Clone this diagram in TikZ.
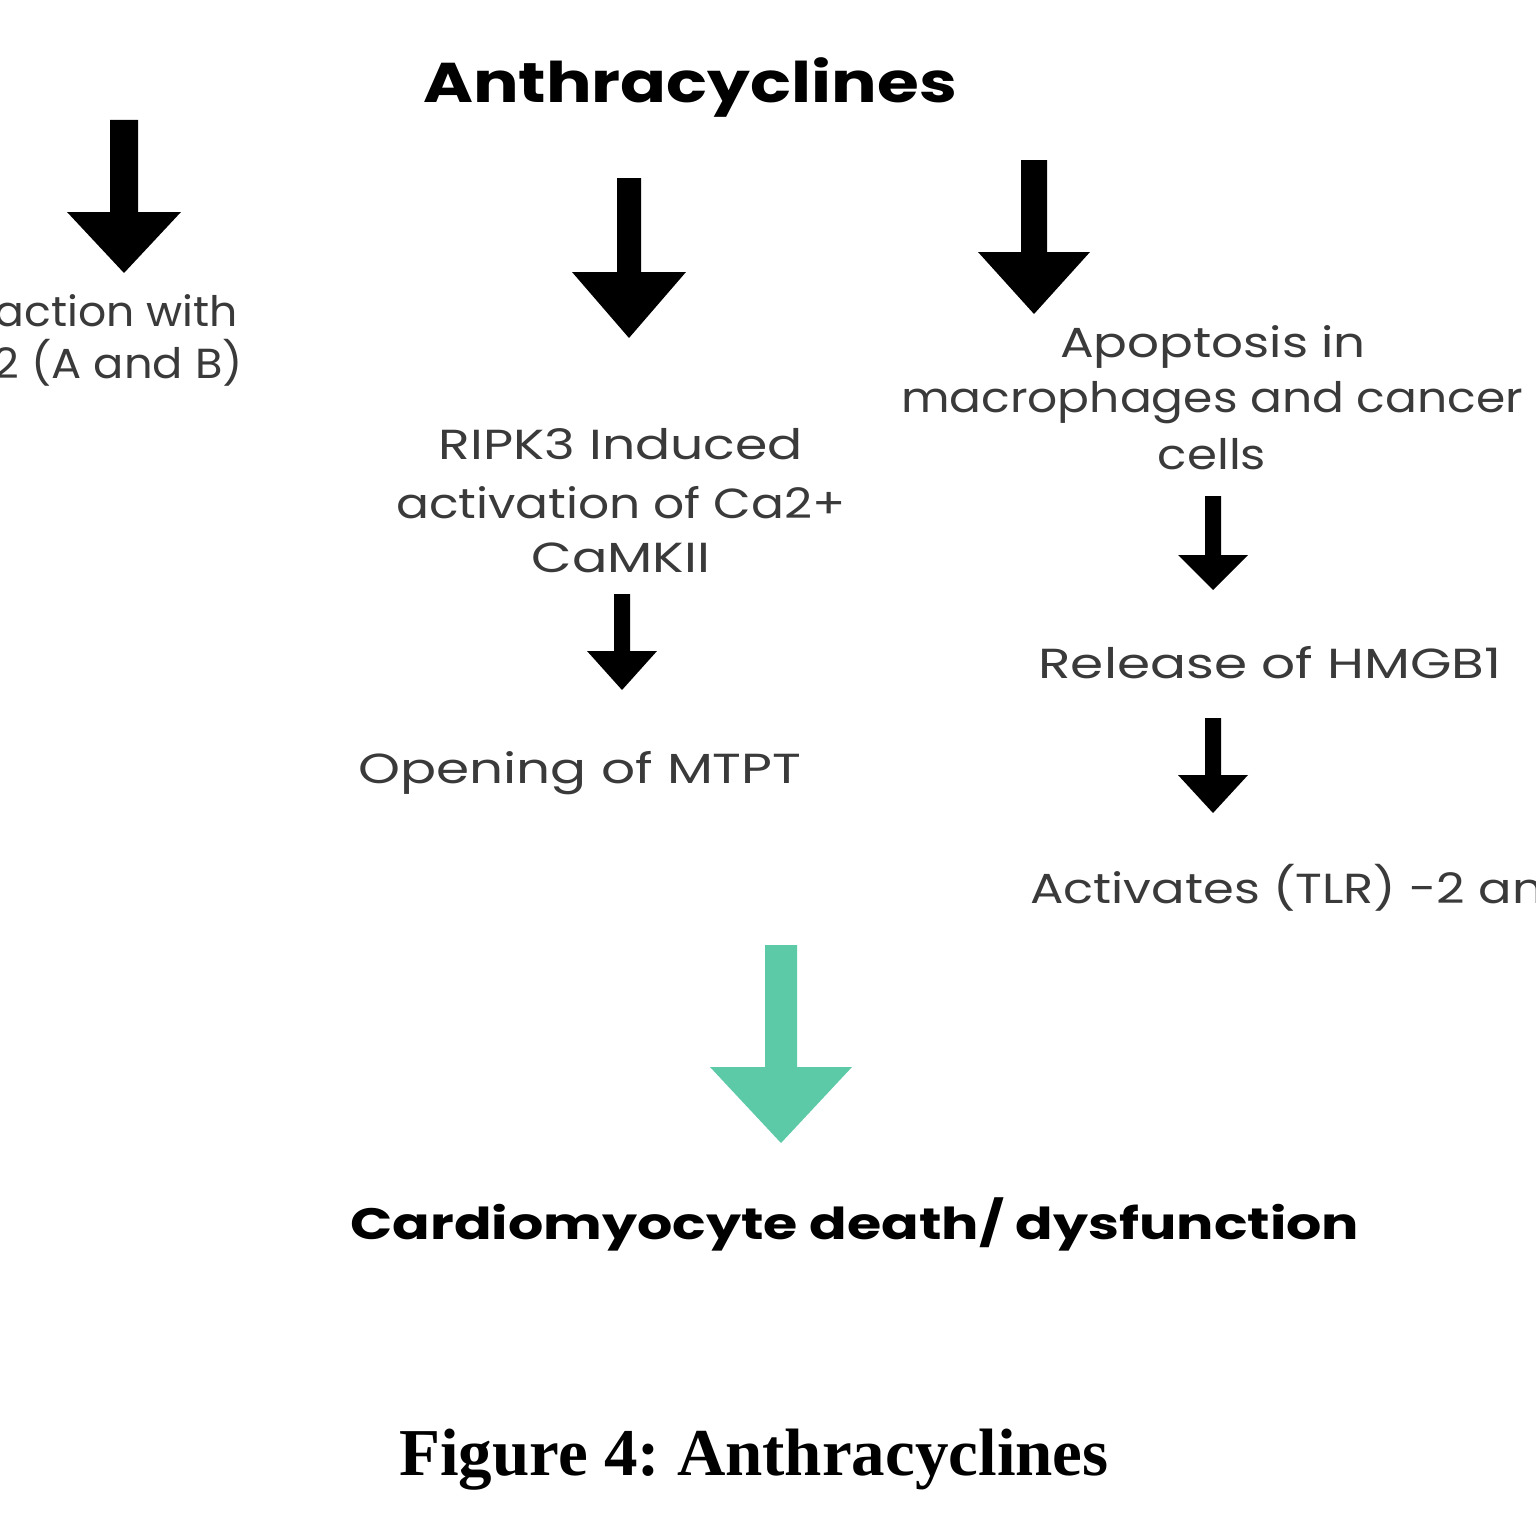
\documentclass[tikz,border=0pt]{standalone}
\usepackage{fontspec}
\setmainfont{Poppins}
\newfontfamily\capfont{Liberation Serif}
\definecolor{txtgray}{HTML}{3A3A3A}
\definecolor{teal}{HTML}{5CC9A7}
\tikzset{
  lbl/.style={anchor=base, inner sep=0pt, text=txtgray, font=\fontsize{42}{50}\selectfont\addfontfeatures{FakeStretch=#1}},
  lbl/.default=1.2,
  lblbold/.style={anchor=base, inner sep=0pt, text=black, font=\fontsize{44}{52}\selectfont\bfseries\addfontfeatures{FakeStretch=#1}},
  lblbold/.default=1.25,
  blockarrow/.style={fill=black, draw=none},
}
% #2 x, #3 top, #4 half shaft, #5 head base, #6 half head, #7 tip
\newcommand{\barrow}[7][blockarrow]{%
  \fill[#1] (#2-#4,#3) -- (#2+#4,#3) -- (#2+#4,#5) -- (#2+#6,#5) -- (#2,#7) -- (#2-#6,#5) -- (#2-#4,#5) -- cycle;}
\begin{document}
\begin{tikzpicture}[x=1pt,y=-1pt]
\useasboundingbox (0,0) rectangle (1536,1536);
\clip (0,0) rectangle (1536,1536);
\fill[white] (0,0) rectangle (1536,1536);
% title
\node[anchor=base, inner sep=0pt, text=black, font=\fontsize{56}{60}\selectfont\bfseries\addfontfeatures{FakeStretch=1.21}] (title) at (690,103) {Anthracyclines};
% black arrows
\barrow{124}{120}{14}{212}{57}{273}
\barrow{629}{178}{12}{272}{57}{338}
\barrow{1034}{160}{13}{252}{56}{314}
\barrow{622}{594}{8}{651}{35}{690}
\barrow{1213}{496}{8}{555}{35}{590}
\barrow{1213}{718}{8}{775}{35}{813}
% teal arrow
\barrow[fill=teal]{781}{945}{16}{1067}{71}{1143}
% left column (cut off at the left edge)
\node[lbl=1.05, anchor=base east] (l1) at (238,326) {action with};
\node[lbl=1.065, anchor=base east] (l2) at (243,378) {2 (A and B)};
% middle column
\node[lbl=1.24] (m1) at (621,459) {RIPK3 Induced};
\node[lbl=1.16] (m2) at (621,518) {activation of Ca2+};
\node[lbl=1.25] (m3) at (621,572) {CaMKII};
\node[lbl=1.27] (m4) at (580,783) {Opening of MTPT};
% right column
\node[lbl=1.19] (r1) at (1213,357) {Apoptosis in};
\node[lbl=1.123] (r2) at (1212,412) {macrophages and cancer};
\node[lbl=1.15] (r3) at (1212,469) {cells};
\node[lbl=1.27] (r4) at (1270,678) {Release of HMGB1};
\node[lbl=1.18, anchor=base west] (r5) at (1030,903) {Activates (TLR) -2 an};
% result
\node[lblbold=1.26] (res) at (855,1239) {Cardiomyocyte death/ dysfunction};
% caption
\node[anchor=base, inner sep=0pt, font=\capfont\bfseries\fontsize{67}{75}\selectfont\frenchspacing] (cap) at (754,1475) {Figure 4: Anthracyclines};
\end{tikzpicture}
\end{document}
